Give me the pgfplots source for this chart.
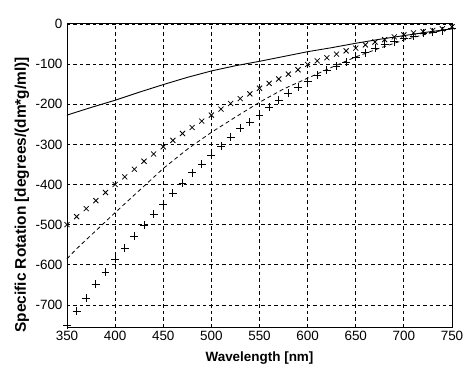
\documentclass[border=0pt]{standalone}
\usepackage{pgfplots}
\pgfplotsset{compat=1.18}
\usepackage{fontspec}
\setmainfont{Liberation Sans}
\begin{document}
\begin{tikzpicture}
\begin{axis}[
  scale only axis, width=385bp, height=303bp,
  anchor=south west, at={(0,0)},
  xmin=350, xmax=750, ymin=-755, ymax=0,
  xtick={350,400,...,750},
  ytick={-700,-600,-500,-400,-300,-200,-100,0},
  yticklabels={-700,-600,-500,-400,-300,-200,-100,0},
  xticklabels={350,400,450,500,550,600,650,700,750},
  major tick length=0pt,
  grid=major,
  major grid style={black, line width=0.8pt, dash pattern=on 3.5pt off 3pt},
  axis line style={black, line width=1pt},
  tick label style={font=\fontsize{13.5}{15}\selectfont},
  xticklabel style={yshift=-1bp},
  yticklabel style={xshift=-1bp},
  xlabel={\textbf{Wavelength [nm]}},
  ylabel={\textbf{Specific Rotation [degrees/(dm*g/ml)]}},
  x label style={font=\fontsize{13.5}{15}\selectfont, at={(axis description cs:0.5,0)}, anchor=center, yshift=-31bp},
  y label style={font=\fontsize{15.5}{17}\selectfont, at={(axis description cs:-0.117,0.436)}, anchor=center},
  clip=false,
]
\addplot[black, line width=0.9pt] coordinates {
(350,-227) (375,-208) (400,-190) (425,-170) (450,-151) (475,-133) (500,-117)
(525,-104) (550,-93) (575,-81) (600,-69) (625,-59) (650,-48) (675,-38)
(700,-29) (725,-20) (750,-12)};
\addplot[black, line width=0.8pt, dash pattern=on 4pt off 3pt] coordinates {
(350,-585) (360,-560) (380,-515) (400,-470) (425,-415) (450,-360) (475,-312)
(500,-270) (525,-232) (550,-195) (575,-162) (600,-135) (625,-108) (650,-82)
(675,-60) (700,-40) (725,-24) (750,-11)};
\addplot[black, only marks, mark=x, mark size=3.6pt, mark options={line width=0.8pt}] coordinates {
(350,-500) (360,-480) (370,-460) (380,-440) (390,-420) (400,-400) (410,-381)
(420,-362) (430,-342) (440,-324) (450,-306) (460,-290) (470,-273) (480,-258)
(490,-242) (500,-227) (510,-212) (520,-198) (530,-186) (540,-174) (550,-160)
(560,-148) (570,-137) (580,-125) (590,-114) (600,-101) (610,-92) (620,-84)
(630,-75) (640,-67) (650,-60) (660,-52) (670,-45) (680,-39) (690,-32)
(700,-27) (710,-22) (720,-19) (730,-16) (740,-12) (750,-7)};
\addplot[black, only marks, mark=+, mark size=4pt, mark options={line width=0.8pt}] coordinates {
(350,-750) (360,-716) (370,-683) (380,-648) (390,-618) (400,-586) (410,-559)
(420,-529) (430,-501) (440,-474) (450,-449) (460,-422) (470,-397) (480,-371)
(490,-349) (500,-327) (510,-304) (520,-282) (530,-260) (540,-244) (550,-227)
(560,-207) (570,-190) (580,-172) (590,-157) (600,-142) (610,-127) (620,-115)
(630,-105) (640,-95) (650,-82) (660,-72) (670,-60) (680,-50) (690,-44)
(700,-36) (710,-30) (720,-23) (730,-20) (740,-17) (750,-12)};
\end{axis}
\pgfresetboundingbox
\path[use as bounding box] (-67bp,-51bp) rectangle (407bp,327bp);
\end{tikzpicture}
\end{document}
